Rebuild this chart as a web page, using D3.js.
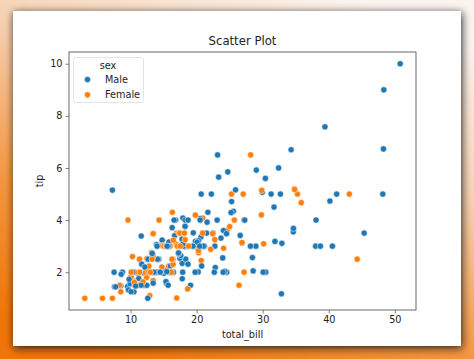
<!DOCTYPE html>
<html><head><meta charset="utf-8">
<script src="https://cdn.jsdelivr.net/npm/d3@7"></script>
<style>html,body{margin:0;padding:0;background:#fff;}svg{display:block;font-family:"DejaVu Sans",sans-serif;}</style>
</head><body>
<script>
const totalBill = [16.99,10.34,21.01,23.68,24.59,25.29,8.77,26.88,15.04,14.78,10.27,35.26,15.42,18.43,14.83,21.58,10.33,16.29,16.97,20.65,17.92,20.29,15.77,39.42,19.82,17.81,13.37,12.69,21.7,19.65,9.55,18.35,15.06,20.69,17.78,24.06,16.31,16.93,18.69,31.27,16.04,17.46,13.94,9.68,30.4,18.29,22.23,32.4,28.55,18.04,12.54,10.29,34.81,9.94,25.56,19.49,38.01,26.41,11.24,48.27,20.29,13.81,11.02,18.29,17.59,20.08,16.45,3.07,20.23,15.01,12.02,17.07,26.86,25.28,14.73,10.51,17.92,27.2,22.76,17.29,19.44,16.66,10.07,32.68,15.98,34.83,13.03,18.28,24.71,21.16,28.97,22.49,5.75,16.32,22.75,40.17,27.28,12.03,21.01,12.46,11.35,15.38,44.3,22.42,20.92,15.36,20.49,25.21,18.24,14.31,14.0,7.25,38.07,23.95,25.71,17.31,29.93,10.65,12.43,24.08,11.69,13.42,14.26,15.95,12.48,29.8,8.52,14.52,11.38,22.82,19.08,20.27,11.17,12.26,18.26,8.51,10.33,14.15,16.0,13.16,17.47,34.3,41.19,27.05,16.43,8.35,18.64,11.87,9.78,7.51,14.07,13.13,17.26,24.55,19.77,29.85,48.17,25.0,13.39,16.49,21.5,12.66,16.21,13.81,17.51,24.52,20.76,31.71,10.59,10.63,50.81,15.81,7.25,31.85,16.82,32.9,17.89,14.48,9.6,34.63,34.65,23.33,45.35,23.17,40.55,20.69,20.9,30.46,18.15,23.1,15.69,19.81,28.44,15.48,16.58,7.56,10.34,43.11,13.0,13.51,18.71,12.74,13.0,16.4,20.53,16.47,26.59,38.73,24.27,12.76,30.06,25.89,48.33,13.27,28.17,12.9,28.15,11.59,7.74,30.14,12.16,13.42,8.58,15.98,13.42,16.27,10.09,20.45,13.28,22.12,24.01,15.69,11.61,10.77,15.53,10.07,12.6,32.83,35.83,29.03,27.18,22.67,17.82,18.78];
const tip = [1.01,1.66,3.5,3.31,3.61,4.71,2.0,3.12,1.96,3.23,1.71,5.0,1.57,3.0,3.02,3.92,1.67,3.71,3.5,3.35,4.08,2.75,2.23,7.58,3.18,2.34,2.0,2.0,4.3,3.0,1.45,2.5,3.0,2.45,3.27,3.6,2.0,3.07,2.31,5.0,2.24,2.54,3.06,1.32,5.6,3.0,5.0,6.0,2.05,3.0,2.5,2.6,5.2,1.56,4.34,3.51,3.0,1.5,1.76,6.73,3.21,2.0,1.98,3.76,2.64,3.15,2.47,1.0,2.01,2.09,1.97,3.0,3.14,5.0,2.2,1.25,3.08,4.0,3.0,2.71,3.0,3.4,1.83,5.0,2.03,5.17,2.0,4.0,5.85,3.0,3.0,3.5,1.0,4.3,3.25,4.73,4.0,1.5,3.0,1.5,2.5,3.0,2.5,3.48,4.08,1.64,4.06,4.29,3.76,4.0,3.0,1.0,4.0,2.55,4.0,3.5,5.07,1.5,1.8,2.92,2.31,1.68,2.5,2.0,2.52,4.2,1.48,2.0,2.0,2.18,1.5,2.83,1.5,2.0,3.25,1.25,2.0,2.0,2.0,2.75,3.5,6.7,5.0,5.0,2.3,1.5,1.36,1.63,1.73,2.0,2.5,2.0,2.74,2.0,2.0,5.14,5.0,3.75,2.61,2.0,3.5,2.5,2.0,2.0,3.0,3.48,2.24,4.5,1.61,2.0,10.0,3.16,5.15,3.18,4.0,3.11,2.0,2.0,4.0,3.55,3.68,5.65,3.5,6.5,3.0,5.0,3.5,2.0,3.5,4.0,1.5,4.19,2.56,2.02,4.0,1.44,2.0,5.0,2.0,2.0,4.0,2.01,2.0,2.5,4.0,3.23,3.41,3.0,2.03,2.23,2.0,5.16,9.0,2.5,6.5,1.1,3.0,1.5,1.44,3.09,2.2,3.48,1.92,3.0,1.58,2.5,2.0,3.0,2.72,2.88,2.0,3.0,3.39,1.47,3.0,1.25,1.0,1.17,4.67,5.92,2.0,2.0,1.75,3.0];
// sex per row, in groups of ten rows (M = Male, F = Female)
const sexCodes = [
  "FMMMFMMMMM","MFMMFMFMFM","MFFMMMMMMF","MMFFMMMFMM","MMMMMMMMMM",
  "MFFMMMMFMM","MMMMMMFFMM","MFFFFMMMMM","MMFMMFMMMM","MMFFFMMMMM",
  "FFFFFMMMMF","MFMMFFMFFF","MFMMFFMFFM","MFFFFFFFMF","FMMFFFFFMM",
  "MMMMMFMFFM","MMFMFMMMFF","MMMMMMMMFM","MMMMMMFMFM","MFMMMMMFFM",
  "MFFFMFMMMF","MMMFFFMMMF","MFMFMFFMMF","MMMMMMMMFM","FMMF"
];
const sexCategories = ["Male","Female"];
const xTicks = [10,20,30,40,50];
const yTicks = [2,4,6,8,10];
</script>
<script>
const sexList = sexCodes.join("").split("").map(c => c === "M" ? "Male" : "Female");

const W = 474, H = 359;
const svg = d3.select("body").append("svg").attr("width", W).attr("height", H);
const defs = svg.append("defs");
const bg = defs.append("linearGradient").attr("id","bg").attr("x1","0.75").attr("y1","0").attr("x2","0.25").attr("y2","1");
bg.append("stop").attr("offset","0").attr("stop-color","#fbf3ee");
bg.append("stop").attr("offset","0.35").attr("stop-color","#f6d0b0");
bg.append("stop").attr("offset","0.7").attr("stop-color","#f3963f");
bg.append("stop").attr("offset","1").attr("stop-color","#f07508");
const f = defs.append("filter").attr("id","sh").attr("x","-10%").attr("y","-10%").attr("width","120%").attr("height","120%");
f.append("feDropShadow").attr("dx",1).attr("dy",2).attr("stdDeviation",4.5).attr("flood-color","#151515").attr("flood-opacity",0.95);

svg.append("rect").attr("width",W).attr("height",H).attr("fill","url(#bg)");
svg.append("rect").attr("x",13).attr("y",11).attr("width",448).attr("height",335).attr("fill","#fff").attr("filter","url(#sh)");

const m = {l:69, r:416, t:52, b:310};
const xs = d3.scaleLinear().domain([0.68, 53.2]).range([m.l, m.r]);
const ys = d3.scaleLinear().domain([0.55, 10.45]).range([m.b, m.t]);
const color = d3.scaleOrdinal().domain(sexCategories).range(["#1f77b4","#ff7f0e"]);

const data = totalBill.map((d,i)=>({x:d, y:tip[i], s:sexList[i]}));

const g = svg.append("g");
g.selectAll("circle.pt").data(data).enter().append("circle").attr("class","pt")
  .attr("cx",d=>xs(d.x)).attr("cy",d=>ys(d.y)).attr("r",3.1)
  .attr("fill",d=>color(d.s)).attr("stroke","#fff").attr("stroke-width",0.5);

const fs = "9.7px";
const xAxis = svg.append("g").attr("transform",`translate(0,${m.b})`)
  .call(d3.axisBottom(xs).tickValues(xTicks).tickSize(3.5).tickPadding(3).tickFormat(d3.format("d")));
const yAxis = svg.append("g").attr("transform",`translate(${m.l},0)`)
  .call(d3.axisLeft(ys).tickValues(yTicks).tickSize(3.5).tickPadding(3).tickFormat(d3.format("d")));
[xAxis,yAxis].forEach(a=>{
  a.select(".domain").remove();
  a.selectAll(".tick line").attr("stroke","#333").attr("stroke-width",0.6);
  a.selectAll(".tick text").attr("fill","#222").style("font-size",fs).style("font-family","DejaVu Sans");
});
svg.append("rect").attr("x",m.l).attr("y",m.t).attr("width",m.r-m.l).attr("height",m.b-m.t)
  .attr("fill","none").attr("stroke","#444").attr("stroke-width",0.8);

svg.append("text").attr("x",(m.l+m.r)/2).attr("y",45).attr("text-anchor","middle")
  .style("font-size","11.7px").attr("fill","#222").text("Scatter Plot");
svg.append("text").attr("x",(m.l+m.r)/2).attr("y",338).attr("text-anchor","middle")
  .style("font-size",fs).attr("fill","#222").text("total_bill");
svg.append("text").attr("transform",`translate(43,${(m.t+m.b)/2}) rotate(-90)`).attr("text-anchor","middle")
  .style("font-size",fs).attr("fill","#222").text("tip");

// legend
const lg = svg.append("g");
lg.append("rect").attr("x",73.5).attr("y",57.5).attr("width",70).attr("height",45).attr("rx",2)
  .attr("fill","#fff").attr("fill-opacity",0.8).attr("stroke","#ddd").attr("stroke-width",0.8);
lg.append("text").attr("x",108).attr("y",68.5).attr("text-anchor","middle").style("font-size",fs).attr("fill","#222").text("sex");
sexCategories.forEach((c,i)=>{
  const yy = 79.5 + i*15.3;
  lg.append("circle").attr("cx",87.5).attr("cy",yy).attr("r",3.1).attr("fill",color(c)).attr("stroke","#fff").attr("stroke-width",0.5);
  lg.append("text").attr("x",105).attr("y",yy+3.4).style("font-size",fs).attr("fill","#222").text(c);
});
</script>
</body></html>
